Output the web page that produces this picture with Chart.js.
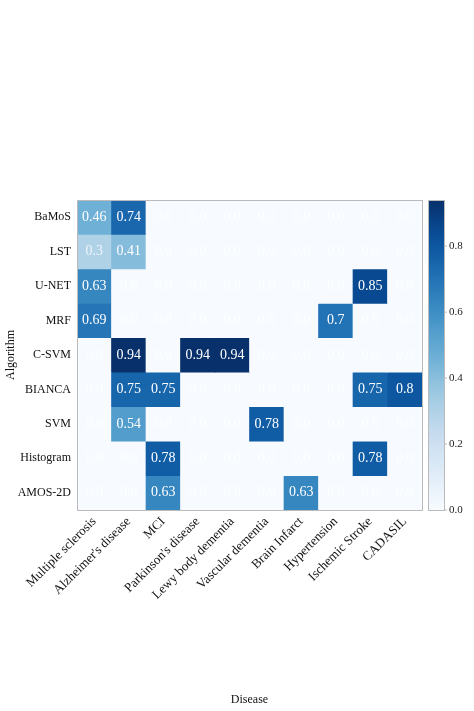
<!DOCTYPE html>
<html>
<head>
<meta charset="utf-8">
<script src="https://cdn.jsdelivr.net/npm/chart.js@4"></script>
<style>
  html, body { margin: 0; padding: 0; background: #fff; }
  #wrap { width: 474px; height: 711px; }
</style>
</head>
<body>
<div id="wrap"><canvas id="c"></canvas></div>
<script>
const diseases = ['Multiple sclerosis', "Alzheimer's disease", 'MCI', "Parkinson's disease", 'Lewy body dementia',
  'Vascular dementia', 'Brain Infarct', 'Hypertension', 'Ischemic Stroke', 'CADASIL'];
const algorithms = ['BaMoS', 'LST', 'U-NET', 'MRF', 'C-SVM', 'BIANCA', 'SVM', 'Histogram', 'AMOS-2D'];
const bamos     = [0.46, 0.74, 0, 0, 0, 0, 0, 0, 0, 0];
const lst       = [0.3, 0.41, 0, 0, 0, 0, 0, 0, 0, 0];
const unet      = [0.63, 0, 0, 0, 0, 0, 0, 0, 0.85, 0];
const mrf       = [0.69, 0, 0, 0, 0, 0, 0, 0.7, 0, 0];
const csvm      = [0, 0.94, 0, 0.94, 0.94, 0, 0, 0, 0, 0];
const bianca    = [0, 0.75, 0.75, 0, 0, 0, 0, 0, 0.75, 0.8];
const svm       = [0, 0.54, 0, 0, 0, 0.78, 0, 0, 0, 0];
const histogram = [0, 0, 0.78, 0, 0, 0, 0, 0, 0.78, 0];
const amos2d    = [0, 0, 0.63, 0, 0, 0, 0.63, 0, 0, 0];
const rows = [bamos, lst, unet, mrf, csvm, bianca, svm, histogram, amos2d];
const colorbarTicks = [0, 0.2, 0.4, 0.6, 0.8];
const vmax = 0.94;

// matplotlib Blues
const blues = ['#f7fbff', '#deebf7', '#c6dbef', '#9ecae1', '#6baed6', '#4292c6', '#2171b5', '#08519c', '#08306b'];
function hex(h) { return [1, 3, 5].map(i => parseInt(h.substr(i, 2), 16)); }
function blue(v) {
  const t = Math.max(0, Math.min(1, v / vmax)) * (blues.length - 1);
  const i = Math.min(Math.floor(t), blues.length - 2), f = t - i;
  const a = hex(blues[i]), b = hex(blues[i + 1]);
  const c = a.map((x, k) => Math.round(x + (b[k] - x) * f));
  return `rgb(${c[0]},${c[1]},${c[2]})`;
}

const serif = '"Liberation Serif", "DejaVu Serif", serif';

const datasets = rows.map((vals, r) => ({
  label: algorithms[r],
  data: vals.map(() => [r - 0.5, r + 0.5]),
  values: vals,
  backgroundColor: vals.map(blue),
  borderWidth: 0,
  grouped: false,
  categoryPercentage: 1,
  barPercentage: 1
}));

const cellLabels = {
  id: 'cellLabels',
  afterDatasetsDraw(chart) {
    const ctx = chart.ctx;
    ctx.save();
    ctx.font = '14px ' + serif;
    ctx.textAlign = 'center';
    ctx.textBaseline = 'middle';
    chart.data.datasets.forEach((ds, r) => {
      chart.getDatasetMeta(r).data.forEach((bar, i) => {
        const v = ds.values[i];
        const y = chart.scales.y.getPixelForValue(r);
        ctx.fillStyle = v === 0 ? 'rgba(255,255,255,0.75)' : (v < 0.4 ? '#eef4fb' : '#fff');
        ctx.fillText(v === 0 ? '0.0' : String(v), bar.x, y);
      });
    });
    const a = chart.chartArea;
    ctx.strokeStyle = '#bbb';
    ctx.lineWidth = 1;
    ctx.strokeRect(a.left + 0.5, a.top + 0.5, a.right - a.left, a.bottom - a.top);

    // colorbar
    const x0 = a.right + 6, w = 16;
    const g = ctx.createLinearGradient(0, a.bottom, 0, a.top);
    for (let k = 0; k <= 20; k++) g.addColorStop(k / 20, blue(vmax * k / 20));
    ctx.fillStyle = g;
    ctx.fillRect(x0, a.top, w, a.bottom - a.top);
    ctx.strokeRect(x0 + 0.5, a.top + 0.5, w, a.bottom - a.top);
    ctx.fillStyle = '#222';
    ctx.font = '11px ' + serif;
    ctx.textAlign = 'left';
    colorbarTicks.forEach(t => {
      const y = a.bottom - (a.bottom - a.top) * t / vmax;
      ctx.beginPath();
      ctx.moveTo(x0 + w, y); ctx.lineTo(x0 + w + 3, y); ctx.stroke();
      ctx.fillText(t.toFixed(1), x0 + w + 5, y);
    });
    ctx.restore();
  }
};

new Chart(document.getElementById('c'), {
  type: 'bar',
  data: { labels: diseases, datasets },
  options: {
    responsive: true,
    maintainAspectRatio: false,
    animation: false,
    layout: { padding: { top: 200, right: 52, left: 0, bottom: 0 } },
    plugins: { legend: { display: false }, tooltip: { enabled: false } },
    scales: {
      x: {
        grid: { display: false, drawTicks: true, tickLength: 4 },
        border: { display: false },
        ticks: { color: '#111', font: { family: serif, size: 13 }, maxRotation: 45, minRotation: 45, autoSkip: false, padding: 0 },
        title: { display: true, text: 'Disease', color: '#111', font: { family: serif, size: 12 }, padding: { top: 2 } },
        afterFit(s) { s.height = 201; }
      },
      y: {
        type: 'linear',
        min: -0.5, max: 8.5,
        reverse: true,
        grid: { display: false, tickLength: 4 },
        border: { display: false },
        afterBuildTicks(s) { s.ticks = algorithms.map((_, i) => ({ value: i })); },
        ticks: { color: '#111', font: { family: serif, size: 12 }, callback: v => algorithms[v], padding: 2 },
        title: { display: true, text: 'Algorithm', color: '#111', font: { family: serif, size: 12 } },
        afterFit(s) { s.width = 77; }
      }
    }
  },
  plugins: [cellLabels]
});
</script>
</body>
</html>
